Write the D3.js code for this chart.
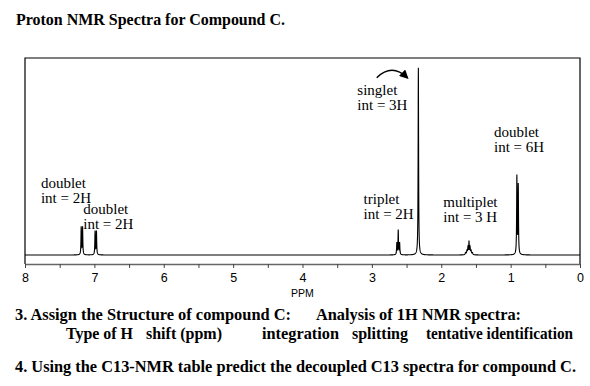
<!DOCTYPE html>
<html>
<head>
<meta charset="utf-8">
<script src="https://cdn.jsdelivr.net/npm/d3@7"></script>
<style>
  body { margin: 0; background: #fff; }
  svg { display: block; }
</style>
</head>
<body>
<div id="chart"></div>
<script>
const width = 590;
const height = 386;

// peak list (ppm, relative height 0-100)
const peakPpm    = [7.19, 7.17, 6.99, 6.97, 2.64, 2.62, 2.60, 2.33, 1.65, 1.63, 1.615, 1.60, 1.585, 1.57, 1.55, 0.91, 0.89];
const peakHeight = [14,   14,   12,   12,   6,    12.5, 6,    95,   1,    2,    3.5,   6.5,  3.5,   2,    1,    39.5, 35];
const peakWidth  = [0.004,0.004,0.004,0.004,0.004,0.004,0.004,0.004,0.006,0.006,0.005, 0.004,0.005, 0.006,0.006,0.004,0.004];

const tickPpm = d3.range(0, 8.01, 0.5);

// annotations: label lines and the ppm / height they sit over
const labelLines = [
  ["doublet", "int = 2H"],
  ["doublet", "int = 2H"],
  ["triplet", "int = 2H"],
  ["singlet", "int = 3H"],
  ["multiplet", "int = 3 H"],
  ["doublet", "int = 6H"]
];
const labelPpm    = [7.77, 7.16, 3.12, 3.21, 1.97, 1.24];
const labelHeight = [34,   21,   26,   81,   24.5, 60];

const margin = {left: 25, right: 10, top: 58, base: 255, axis: 264};

const x = d3.scaleLinear().domain([8, 0]).range([margin.left, width - margin.right]);
const y = d3.scaleLinear().domain([0, 100]).range([margin.base, margin.base - 197]);

const svg = d3.select("#chart").append("svg")
  .attr("width", width)
  .attr("height", height);

const serif = "'Liberation Serif', 'Times New Roman', serif";

// fit a bold line of text between two x positions
function boldText(g, s, x0, x1, yy) {
  g.append("text")
    .attr("x", x0).attr("y", yy)
    .attr("textLength", x1 - x0)
    .attr("lengthAdjust", "spacingAndGlyphs")
    .text(s);
}

// title
const title = svg.append("g")
  .attr("font-family", serif)
  .attr("font-weight", "bold")
  .attr("font-size", "16px");
boldText(title, "Proton NMR Spectra for Compound C.", 16, 285, 25);

// frame
svg.append("path")
  .attr("d", `M${x(8)},${margin.axis}V${margin.top}H${x(0)}V${margin.axis}`)
  .attr("fill", "none")
  .attr("stroke", "#000")
  .attr("stroke-width", 1.2);

// spectrum: sum of lorentzian lines
const samples = d3.range(0, 8.0005, 0.001).concat(peakPpm).sort((a, b) => a - b);
const spectrum = samples.map(p => {
  let s = 0;
  for (let i = 0; i < peakPpm.length; i++) {
    const d = (p - peakPpm[i]) / peakWidth[i];
    s += peakHeight[i] / (1 + d * d);
  }
  return [p, s];
});

svg.append("path")
  .datum(spectrum)
  .attr("fill", "none")
  .attr("stroke", "#000")
  .attr("stroke-width", 1.1)
  .attr("d", d3.line().x(d => x(d[0])).y(d => y(d[1])));

// axis
const axis = svg.append("g")
  .attr("transform", `translate(0,${margin.axis})`)
  .call(d3.axisBottom(x)
    .tickValues(tickPpm)
    .tickSize(4)
    .tickSizeOuter(0)
    .tickFormat(d => Number.isInteger(d) ? d : ""));
axis.select(".domain").attr("stroke", "#666").attr("stroke-width", 1.5);
axis.selectAll(".tick line").attr("stroke", "#444");
axis.selectAll(".tick text")
  .attr("font-family", "'Liberation Sans', Arial, sans-serif")
  .attr("font-size", "12.5px")
  .attr("fill", "#000")
  .attr("dy", "0.9em");

svg.append("text")
  .attr("x", x(4)).attr("y", 297)
  .attr("text-anchor", "middle")
  .attr("font-family", "'Liberation Sans', Arial, sans-serif")
  .attr("font-size", "10.5px")
  .text("PPM");

// peak labels
const labels = svg.append("g")
  .attr("font-family", serif)
  .attr("font-size", "15px");
labelLines.forEach((lines, i) => {
  const t = labels.append("text")
    .attr("x", x(labelPpm[i]))
    .attr("y", y(labelHeight[i]));
  lines.forEach((s, j) => {
    t.append("tspan")
      .attr("x", x(labelPpm[i]))
      .attr("dy", j === 0 ? 0 : 15)
      .text(s);
  });
});

// curved arrow over the singlet label
svg.append("defs").append("marker")
  .attr("id", "head")
  .attr("viewBox", "0 0 10 10")
  .attr("refX", 8).attr("refY", 5)
  .attr("markerWidth", 6).attr("markerHeight", 6)
  .attr("orient", "auto")
  .append("path")
  .attr("d", "M0,0L10,5L0,10Z")
  .attr("fill", "#000");

svg.append("path")
  .attr("d", `M${x(2.93)},${y(90)}Q${x(2.71)},${y(97.5)} ${x(2.49)},${y(90)}`)
  .attr("fill", "none")
  .attr("stroke", "#000")
  .attr("stroke-width", 1.5)
  .attr("marker-end", "url(#head)");

// questions underneath
const q = svg.append("g")
  .attr("font-family", serif)
  .attr("font-weight", "bold")
  .attr("font-size", "16px");
boldText(q, "3.  Assign the Structure of compound C:", 15, 291, 320);
boldText(q, "Analysis  of 1H NMR spectra:", 316, 521, 320);
const colText = ["Type of H", "shift (ppm)", "integration", "splitting", "tentative identification"];
const colX0 = [66, 146, 262, 352, 426];
const colX1 = [133, 222, 339, 408, 573];
colText.forEach((s, i) => boldText(q, s, colX0[i], colX1[i], 339));
boldText(q, "4.  Using the C13-NMR table predict the decoupled C13 spectra for compound C.", 15, 576, 372);
</script>
</body>
</html>
